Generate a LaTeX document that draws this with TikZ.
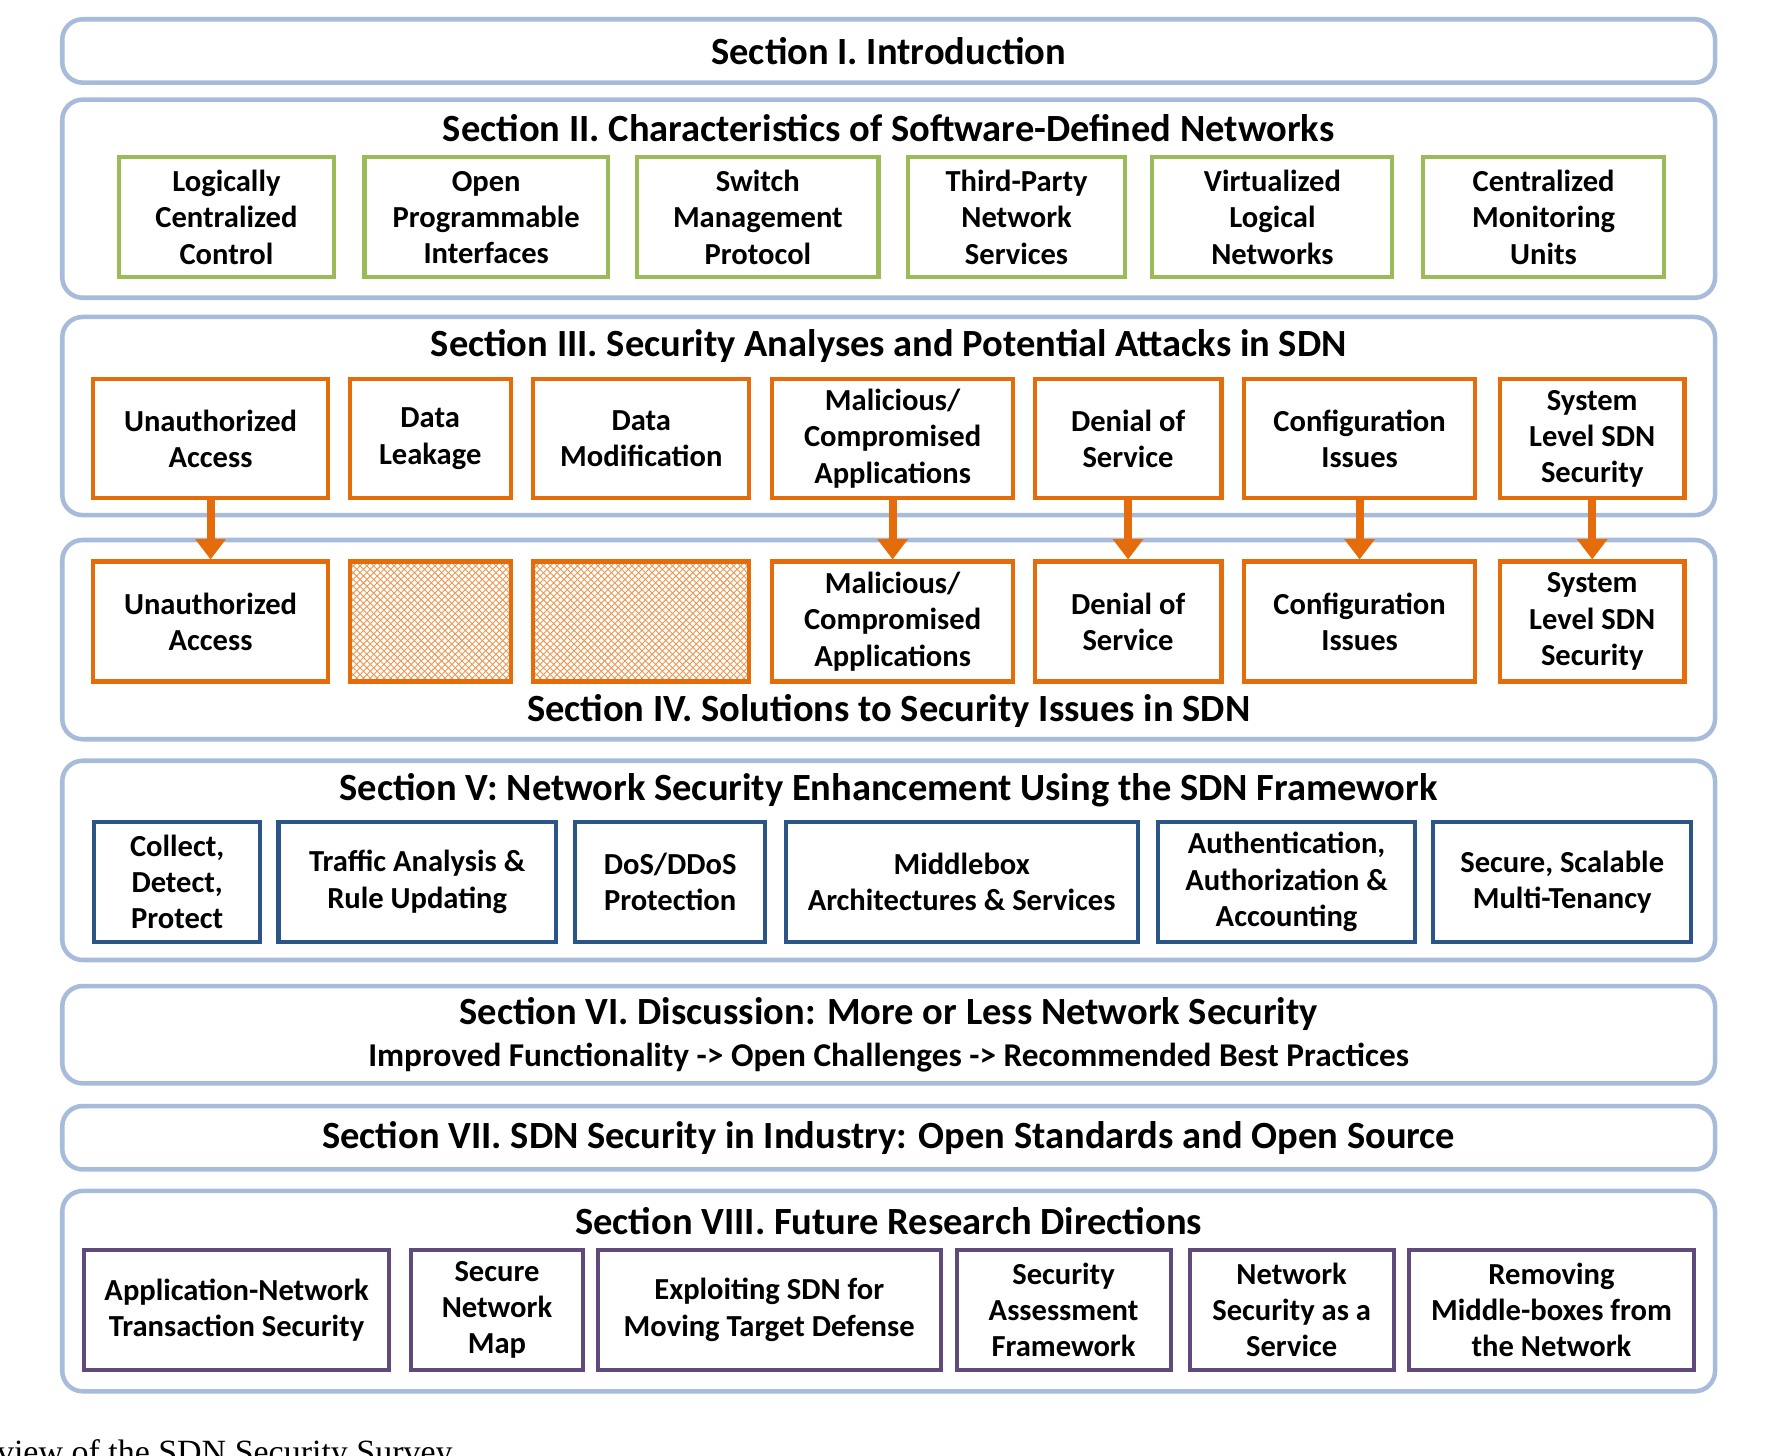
\documentclass[tikz,border=0pt]{standalone}
\usepackage{fontspec}
\setmainfont{Carlito}
\newfontfamily\capfont{Liberation Serif}
\usetikzlibrary{patterns,arrows.meta}
\definecolor{frameblue}{HTML}{A7BBDA}
\definecolor{sdngreen}{HTML}{9BBB59}
\definecolor{sdnorange}{HTML}{E46C0A}
\definecolor{sdnblue}{HTML}{2A5586}
\definecolor{sdnpurple}{HTML}{604A7B}
\tikzset{
  section/.style={draw=frameblue, line width=2pt, rounded corners=9pt},
  title/.style={font=\fontsize{17}{20}\selectfont\bfseries},
  box/.style={draw, line width=1.8pt, align=center, inner sep=0pt,
    font=\fontsize{13.5}{16}\selectfont\bfseries},
  hatch/.style={pattern=crosshatch, pattern color=sdnorange!70},
  arr/.style={draw=sdnorange, line width=3.5pt, -{Triangle[width=13pt,length=9pt]}}
}
\begin{document}
\begin{tikzpicture}[x=0.5pt, y=-0.5pt]
        % canvas
        \useasboundingbox (0,0) rectangle (1560,1286);

        % section frames
        \draw[section] (55,17) rectangle (1515,73);
        \draw[section] (55,88) rectangle (1515,263);
        \draw[section] (55,280) rectangle (1515,455);
        \draw[section] (55,477) rectangle (1515,653);
        \draw[section] (55,672) rectangle (1515,848);
        \draw[section] (55,871) rectangle (1515,957);
        \draw[section] (55,977) rectangle (1515,1033);
        \draw[section] (55,1052) rectangle (1515,1229);

        % section titles
        \node[title] (t1) at (785,45) {Section I. Introduction};
        \node[title] (t2) at (785,113) {Section II. Characteristics of Software-Defined Networks};
        \node[title] (t3) at (785,306) {Section III. Security Analyses and Potential Attacks in SDN};
        \node[title] (t4) at (785,628) {Section IV. Solutions to Security Issues in SDN};
        \node[title] (t5) at (785,698) {Section V: Network Security Enhancement Using the SDN Framework};
        \node[title] (t6) at (785,896) {Section VI. Discussion: More or Less Network Security};
        \node[font=\fontsize{14.7}{17}\selectfont\bfseries] (t6b) at (785,934)
          {Improved Functionality -> Open Challenges -> Recommended Best Practices};
        \node[title] (t7) at (785,1005) {Section VII. SDN Security in Industry: Open Standards and Open Source};
        \node[title] (t8) at (785,1079) {Section VIII. Future Research Directions};

        % section II boxes
        \foreach \i/\xa/\xb/\txt in {1/105/295/{Logically\\Centralized\\Control},
            2/322/537/{Open\\Programmable\\Interfaces},
            3/563/776/{Switch\\Management\\Protocol},
            4/802/994/{Third-Party\\Network\\Services},
            5/1018/1230/{Virtualized\\Logical\\Networks},
            6/1257/1470/{Centralized\\Monitoring\\Units}}{
            \node[box, draw=sdngreen, minimum width=(\xb-\xa)*0.5pt, minimum height=53pt]
              (ch\i) at ({(\xa+\xb)/2},192) {\txt};
        }

        % section III and IV boxes
        \foreach \i/\xa/\xb/\txt in {1/82/290/{Unauthorized\\Access},
            2/309/451/{Data\\Leakage},
            3/471/662/{Data\\Modification},
            4/682/895/{Malicious/\\Compromised\\Applications},
            5/914/1079/{Denial of\\Service},
            6/1099/1303/{Configuration\\Issues},
            7/1325/1488/{System\\Level SDN\\Security}}{
            \node[box, draw=sdnorange, minimum width=(\xb-\xa)*0.5pt, minimum height=52.5pt]
              (at\i) at ({(\xa+\xb)/2},387.5) {\txt};
        }
        \foreach \i/\xa/\xb/\txt in {1/82/290/{Unauthorized\\Access},
            4/682/895/{Malicious/\\Compromised\\Applications},
            5/914/1079/{Denial of\\Service},
            6/1099/1303/{Configuration\\Issues},
            7/1325/1488/{System\\Level SDN\\Security}}{
            \node[box, draw=sdnorange, minimum width=(\xb-\xa)*0.5pt, minimum height=53pt]
              (so\i) at ({(\xa+\xb)/2},549) {\txt};
            \draw[arr] (at\i) -- (so\i);
        }
        % hatched placeholders
        \node[box, draw=sdnorange, hatch, minimum width=71pt, minimum height=53pt]
          (so2) at (380,549) {};
        \node[box, draw=sdnorange, hatch, minimum width=95.5pt, minimum height=53pt]
          (so3) at (566.5,549) {};

        % section V boxes
        \foreach \i/\xa/\xb/\txt in {1/83/230/{Collect,\\Detect,\\Protect},
            2/246/491/{Traffic Analysis \&\\Rule Updating},
            3/508/676/{DoS/DDoS\\Protection},
            4/694/1005/{Middlebox\\Architectures \& Services},
            5/1023/1250/{Authentication,\\Authorization \&\\Accounting},
            6/1266/1494/{Secure, Scalable\\Multi-Tenancy}}{
            \node[box, draw=sdnblue, minimum width=(\xb-\xa)*0.5pt, minimum height=53pt]
              (en\i) at ({(\xa+\xb)/2},779) {\txt};
        }

        % section VIII boxes
        \foreach \i/\xa/\xb/\txt in {1/74/344/{Application-Network\\Transaction Security},
            2/363/515/{Secure\\Network\\Map},
            3/528/831/{Exploiting SDN for\\Moving Target Defense},
            4/845/1034/{Security\\Assessment\\Framework},
            5/1051/1231/{Network\\Security as a\\Service},
            6/1245/1496/{Removing\\Middle-boxes from\\the Network}}{
            \node[box, draw=sdnpurple, minimum width=(\xb-\xa)*0.5pt, minimum height=53pt]
              (fu\i) at ({(\xa+\xb)/2},1157) {\txt};
        }

        % caption, cut by the page
        \node[anchor=base west, inner sep=0pt, font=\capfont\fontsize{15}{17}\selectfont]
          (cap) at (-3,1293) {view of the SDN Security Survey};
\end{tikzpicture}
\end{document}
